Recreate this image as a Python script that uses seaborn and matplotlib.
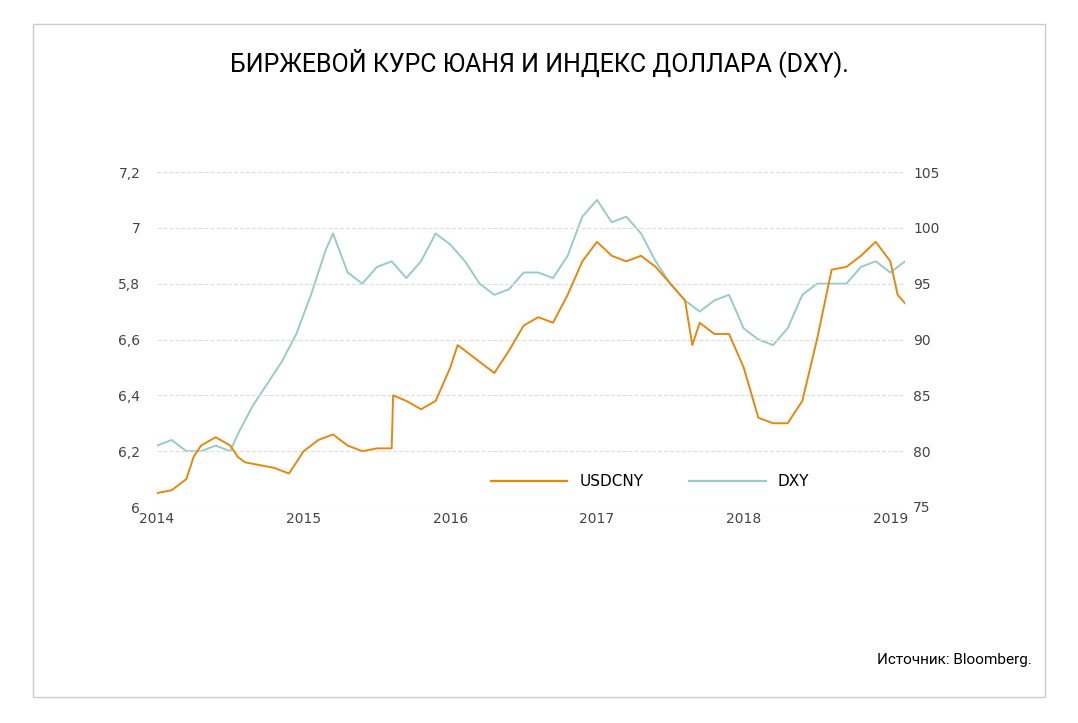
import numpy as np
import pandas as pd
import matplotlib
matplotlib.use("Agg")
import matplotlib.pyplot as plt
import seaborn as sns
from matplotlib.patches import Rectangle

# approximate values
t_cny = [2014.0, 2014.1, 2014.2, 2014.25, 2014.3, 2014.4, 2014.5, 2014.55, 2014.6, 2014.7, 2014.8,
         2014.9, 2015.0, 2015.1, 2015.2, 2015.3, 2015.4, 2015.5, 2015.6, 2015.61, 2015.7, 2015.8,
         2015.9, 2016.0, 2016.05, 2016.2, 2016.3, 2016.4, 2016.5, 2016.6, 2016.7, 2016.8, 2016.9,
         2017.0, 2017.1, 2017.2, 2017.3, 2017.4, 2017.5, 2017.6, 2017.65, 2017.7, 2017.8, 2017.9,
         2018.0, 2018.1, 2018.2, 2018.3, 2018.4, 2018.5, 2018.6, 2018.7, 2018.8, 2018.9, 2019.0,
         2019.05, 2019.15]
usdcny = [6.05, 6.06, 6.10, 6.18, 6.22, 6.25, 6.22, 6.18, 6.16, 6.15, 6.14,
          6.12, 6.20, 6.24, 6.26, 6.22, 6.20, 6.21, 6.21, 6.40, 6.38, 6.35,
          6.38, 6.50, 6.58, 6.52, 6.48, 6.56, 6.65, 6.68, 6.66, 6.76, 6.88,
          6.95, 6.90, 6.88, 6.90, 6.86, 6.80, 6.74, 6.58, 6.66, 6.62, 6.62,
          6.50, 6.32, 6.30, 6.30, 6.38, 6.60, 6.85, 6.86, 6.90, 6.95, 6.88,
          6.76, 6.70]

t_dxy = [2014.0, 2014.1, 2014.2, 2014.3, 2014.4, 2014.5, 2014.55, 2014.65, 2014.75, 2014.85,
         2014.95, 2015.05, 2015.15, 2015.2, 2015.3, 2015.4, 2015.5, 2015.6, 2015.7, 2015.8,
         2015.9, 2016.0, 2016.1, 2016.2, 2016.3, 2016.4, 2016.5, 2016.6, 2016.7, 2016.8,
         2016.9, 2017.0, 2017.1, 2017.2, 2017.3, 2017.4, 2017.5, 2017.6, 2017.7, 2017.8,
         2017.9, 2018.0, 2018.1, 2018.2, 2018.3, 2018.4, 2018.5, 2018.6, 2018.7, 2018.8,
         2018.9, 2019.0, 2019.1, 2019.15]
dxy = [80.5, 81, 80, 80, 80.5, 80, 81.5, 84, 86, 88,
       90.5, 94, 98, 99.5, 96, 95, 96.5, 97, 95.5, 97,
       99.5, 98.5, 97, 95, 94, 94.5, 96, 96, 95.5, 97.5,
       101, 102.5, 100.5, 101, 99.5, 97, 95, 93.5, 92.5, 93.5,
       94, 91, 90, 89.5, 91, 94, 95, 95, 95, 96.5,
       97, 96, 97, 96]

left_ticks = [6.0, 6.2, 6.4, 6.6, 6.8, 7.0, 7.2]
left_labels = ["6", "6,2", "6,4", "6,6", "5,8", "7", "7,2"]
right_ticks = [75, 80, 85, 90, 95, 100, 105]
years = [2014, 2015, 2016, 2017, 2018, 2019]

orange = "#E8870E"
teal = "#97CBCB"

fig = plt.figure(figsize=(10.78, 7.23), dpi=100)
fig.patches.append(Rectangle((33 / 1078, 1 - 697 / 723), 1012 / 1078, 673 / 723,
                             transform=fig.transFigure, fill=False, ec="#CCCCCC", lw=1))
ax = fig.add_axes([157 / 1078, 1 - 507 / 723, 748 / 1078, 335 / 723])
ax2 = ax.twinx()

df_c = pd.DataFrame({"t": t_cny, "v": usdcny})
df_d = pd.DataFrame({"t": t_dxy, "v": dxy})
sns.lineplot(data=df_d, x="t", y="v", ax=ax2, color=teal, lw=1.4, label="DXY", legend=False)
sns.lineplot(data=df_c, x="t", y="v", ax=ax, color=orange, lw=1.4, label="USDCNY", legend=False)
ax.set_zorder(ax2.get_zorder() + 1)
ax.patch.set_visible(False)

ax.set_xlim(2014, 2019.1)
ax.set_ylim(6.0, 7.2)
ax2.set_ylim(75, 105)
ax.set_yticks(left_ticks, left_labels)
ax2.set_yticks(right_ticks)
ax.set_xticks(years, [str(y) for y in years])
ax.set_xlabel("")
ax.set_ylabel("")
ax2.set_ylabel("")
for a in (ax, ax2):
    for s in a.spines.values():
        s.set_visible(False)
    a.tick_params(length=0, labelsize=10, colors="#444444")
ax.tick_params(axis="y", pad=12)
ax2.tick_params(axis="y", pad=6)
ax.grid(axis="y", ls="--", color="#DDDDDD", lw=0.8)
ax.axhline(6.0, color="#CCCCCC", lw=0.8)

handles = [plt.Line2D([], [], color=orange, lw=1.6), plt.Line2D([], [], color=teal, lw=1.6)]
fig.legend(handles, ["USDCNY", "DXY"], loc="center", bbox_to_anchor=(650 / 1078, 1 - 482 / 723),
           ncol=2, frameon=False, fontsize=11, handlelength=5, columnspacing=3)

fig.text(0.5, 1 - 63 / 723, "БИРЖЕВОЙ КУРС ЮАНЯ И ИНДЕКС ДОЛЛАРА (DXY).", ha="center", va="center",
         fontsize=18, family="Roboto")
fig.text(1032 / 1078, 1 - 660 / 723, "Источник: Bloomberg.", ha="right", va="center", fontsize=11,
         family="Roboto")

fig.savefig("out.png", dpi=100)
